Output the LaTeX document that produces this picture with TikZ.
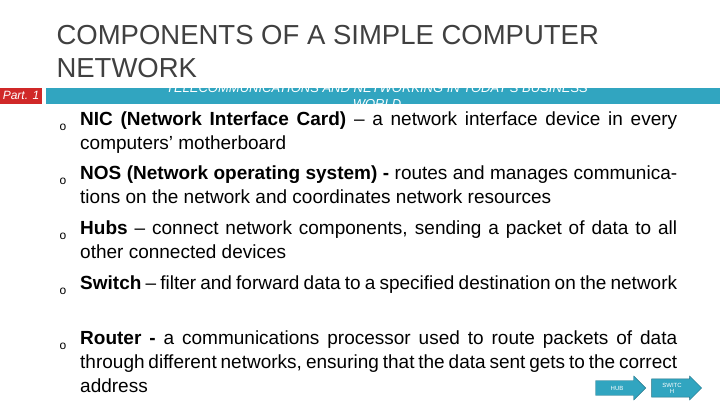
\documentclass[tikz,border=0pt]{standalone}
\usepackage{fontspec}
\setmainfont{Liberation Sans}
\usetikzlibrary{shapes.arrows}
\definecolor{teal1}{HTML}{31A5C0}
\definecolor{red1}{HTML}{D02828}
\newcommand\nohyph{\hyphenpenalty=10000\exhyphenpenalty=10000\relax}
\tikzset{
 item/.style={anchor=north west,text width=597pt,align=justify,inner sep=0pt,font=\fontsize{19}{24}\selectfont},
 bul/.style={font=\fontsize{12}{12}\selectfont,inner sep=0pt},
 arr/.style={single arrow,fill=teal1,draw=teal1!70!black,minimum height=50pt,minimum width=24pt,single arrow head extend=2pt,text=white,font=\fontsize{6}{6}\selectfont,align=center,inner sep=1pt}
}
\begin{document}
\begin{tikzpicture}[x=1pt,y=-1pt]
\useasboundingbox (0,0) rectangle (720,405);
\node[anchor=west,text=black!75,font=\fontsize{27.5}{33}\selectfont,align=left] (title) at (53,52) {COMPONENTS OF A SIMPLE COMPUTER\\NETWORK};
\node[fill=red1,text=white,font=\itshape\fontsize{12}{12}\selectfont,minimum width=42pt,minimum height=16pt,inner sep=0pt] (part) at (21,95.5) {Part. 1};
\fill[teal1] (46,87.5) rectangle (720,103.5);
\begin{scope}
\clip (46,87.5) rectangle (720,103.5);
\node[text=white,font=\itshape\fontsize{13}{15.5}\selectfont,align=center] (ban) at (377,96) {TELECOMMUNICATIONS AND NETWORKING IN TODAY'S BUSINESS\\WORLD};
\end{scope}
\node[item] (t1) at (80,112) {\nohyph\textbf{NIC (Network Interface Card)} -- a network interface device in every computers' motherboard};
\node[item] (t2) at (80,166) {\nohyph\textbf{NOS (Network operating system) -} routes and manages communications on the network and coordinates network resources};
\node[item] (t3) at (80,221) {\nohyph\textbf{Hubs} -- connect network components, sending a packet of data to all other connected devices};
\node[item] (t4) at (80,276) {\nohyph\textbf{Switch} -- filter and forward data to a specified destination on the network};
\node[item] (t5) at (80,331) {\nohyph\textbf{Router -} a communications processor used to route packets of data through different networks, ensuring that the data sent gets to the correct address};
\foreach \y/\n in {127/1,181/2,236/3,291/4,346/5} \node[bul] (b\n) at (63,\y) {o};
\node[arr] (hub) at (617,388) {HUB};
\node[arr] (sw) at (672,388) {SWITC\\H};
\end{tikzpicture}
\end{document}
